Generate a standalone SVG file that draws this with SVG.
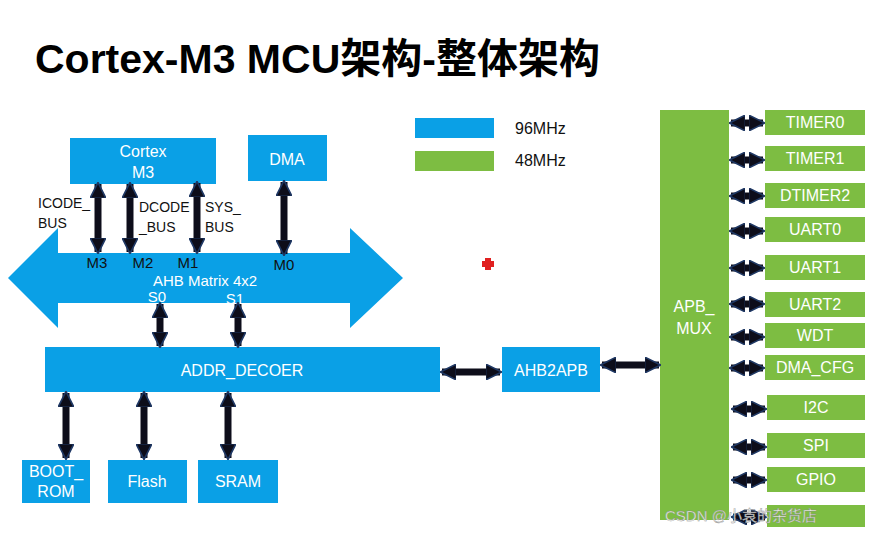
<svg xmlns="http://www.w3.org/2000/svg" width="872" height="535" viewBox="0 0 872 535">
<defs>
<marker id="ah" viewBox="0 0 10 10" refX="9" refY="5" markerWidth="16" markerHeight="16" markerUnits="userSpaceOnUse" orient="auto-start-reverse">
<path d="M0,0 L10,5 L0,10 Z" fill="#0d0d1a" stroke="#1f3864" stroke-width="1"/>
</marker>
<style>
.b{fill:#0aa0e6}
.g{fill:#7dbd42}
.t{font-family:"Liberation Sans","Noto Sans CJK SC",sans-serif;font-size:16px;fill:#fff;text-anchor:middle}
.k{font-family:"Liberation Sans","Noto Sans CJK SC",sans-serif;font-size:14px;fill:#111}
.m{font-family:"Liberation Sans","Noto Sans CJK SC",sans-serif;font-size:15px;fill:#111;text-anchor:middle}
.a{stroke:#0d0d1a;stroke-width:7;fill:none;marker-start:url(#ah);marker-end:url(#ah)}
</style>
</defs>
<rect width="872" height="535" fill="#fff"/>
<text x="35" y="73" font-family="'Liberation Sans','Noto Sans CJK SC',sans-serif" font-weight="bold" font-size="41" fill="#000">Cortex-M3 MCU架构-整体架构</text>
<g id="legend">
<rect x="415" y="118" width="79" height="20" class="b"/>
<rect x="415" y="151" width="79" height="20" class="g"/>
<text x="515" y="134" class="k" style="font-size:16px">96MHz</text>
<text x="515" y="166" class="k" style="font-size:16px">48MHz</text>
</g>
<g id="ahb">
<path d="M8,278 L58,228 L58,253 L350,253 L350,228 L403,278 L350,328 L350,303 L58,303 L58,328 Z" class="b"/>
<text x="97" y="268" class="m">M3</text>
<text x="143" y="268" class="m">M2</text>
<text x="188" y="268" class="m">M1</text>
<text x="284" y="270" class="m">M0</text>
<text x="205" y="286" class="t" style="font-size:15px">AHB   Matrix 4x2</text>
<text x="157" y="302" class="t" style="font-size:15px">S0</text>
<text x="235" y="304" class="t" style="font-size:15px">S1</text>
</g>
<g id="cortex"><rect x="70" y="138" width="146" height="46" class="b"/><text x="143" y="157" class="t">Cortex</text><text x="143" y="178" class="t">M3</text></g>
<g id="dma"><rect x="248" y="135" width="79" height="46" class="b"/><text x="287" y="165" class="t">DMA</text></g>
<g id="addr"><rect x="45" y="347" width="395" height="45" class="b"/><text x="242" y="376" class="t">ADDR_DECOER</text></g>
<g id="ahb2apb"><rect x="502" y="347" width="98" height="45" class="b"/><text x="551" y="376" class="t">AHB2APB</text></g>
<g id="bootrom"><rect x="22" y="460" width="68" height="43" class="b"/><text x="56" y="477" class="t">BOOT_</text><text x="56" y="497" class="t">ROM</text></g>
<g id="flash"><rect x="108" y="460" width="79" height="43" class="b"/><text x="147" y="487" class="t">Flash</text></g>
<g id="sram"><rect x="198" y="460" width="80" height="43" class="b"/><text x="238" y="487" class="t">SRAM</text></g>
<g id="apbmux"><rect x="660" y="110" width="69" height="410" class="g"/><text x="694" y="312" class="t">APB_</text><text x="694" y="334" class="t">MUX</text></g>
<g id="periph">
<rect x="765" y="110" width="100" height="25" class="g"/><text x="815" y="128" class="t">TIMER0</text>
<rect x="765" y="146" width="100" height="25" class="g"/><text x="815" y="164" class="t">TIMER1</text>
<rect x="765" y="183" width="100" height="25" class="g"/><text x="815" y="201" class="t">DTIMER2</text>
<rect x="765" y="217" width="100" height="25" class="g"/><text x="815" y="235" class="t">UART0</text>
<rect x="765" y="255" width="100" height="25" class="g"/><text x="815" y="273" class="t">UART1</text>
<rect x="765" y="292" width="100" height="25" class="g"/><text x="815" y="310" class="t">UART2</text>
<rect x="765" y="323" width="100" height="25" class="g"/><text x="815" y="341" class="t">WDT</text>
<rect x="765" y="355" width="100" height="25" class="g"/><text x="815" y="373" class="t">DMA_CFG</text>
<rect x="767" y="395" width="98" height="25" class="g"/><text x="816" y="413" class="t">I2C</text>
<rect x="767" y="433" width="98" height="25" class="g"/><text x="816" y="451" class="t">SPI</text>
<rect x="767" y="467" width="98" height="25" class="g"/><text x="816" y="485" class="t">GPIO</text>
<rect x="767" y="505" width="98" height="22" class="g"/>
</g>
<g id="labels">
<text x="38" y="208" class="k">ICODE_</text><text x="38" y="228" class="k">BUS</text>
<text x="139" y="212" class="k">DCODE</text><text x="139" y="232" class="k">_BUS</text>
<text x="205" y="212" class="k">SYS_</text><text x="205" y="232" class="k">BUS</text>
</g>
<g id="connectors">
<line x1="98" y1="184" x2="98" y2="252" class="a"/>
<line x1="130" y1="184" x2="130" y2="252" class="a"/>
<line x1="197" y1="183" x2="197" y2="252" class="a"/>
<line x1="284" y1="182" x2="284" y2="254" class="a"/>
<line x1="160" y1="304" x2="160" y2="346" class="a"/>
<line x1="238" y1="304" x2="238" y2="346" class="a"/>
<line x1="66" y1="393" x2="66" y2="458" class="a"/>
<line x1="144" y1="393" x2="144" y2="458" class="a"/>
<line x1="228" y1="393" x2="228" y2="458" class="a"/>
<line x1="442" y1="372" x2="500" y2="372" class="a"/>
<line x1="602" y1="365" x2="659" y2="365" class="a"/>
<line x1="731" y1="123" x2="763" y2="123" class="a"/>
<line x1="731" y1="160" x2="763" y2="160" class="a"/>
<line x1="731" y1="196" x2="763" y2="196" class="a"/>
<line x1="731" y1="231" x2="763" y2="231" class="a"/>
<line x1="731" y1="268" x2="763" y2="268" class="a"/>
<line x1="731" y1="304" x2="763" y2="304" class="a"/>
<line x1="731" y1="337" x2="763" y2="337" class="a"/>
<line x1="731" y1="368" x2="763" y2="368" class="a"/>
<line x1="733" y1="409" x2="765" y2="409" class="a"/>
<line x1="733" y1="447" x2="765" y2="447" class="a"/>
<line x1="733" y1="480" x2="765" y2="480" class="a"/>
<line x1="733" y1="517" x2="765" y2="517" class="a"/>
</g>
<path d="M485,258h6v3h3v6h-3v3h-6v-3h-3v-6h3z" fill="#e02020"/>
<text x="665" y="521" font-family="'Liberation Sans','Noto Sans CJK SC',sans-serif" font-size="15" fill="#fff" fill-opacity="0.85" stroke="#888" stroke-width="0.4">CSDN @小袁的杂货店</text>
</svg>
